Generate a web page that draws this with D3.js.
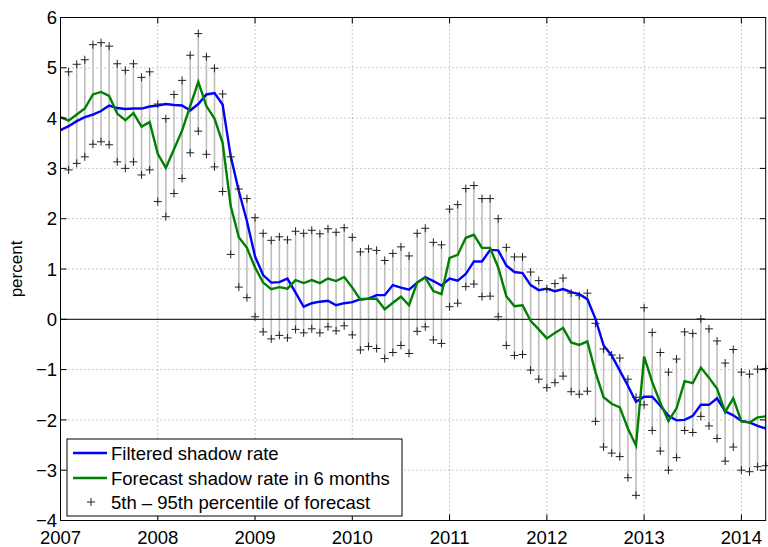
<!DOCTYPE html>
<html>
<head>
<meta charset="utf-8">
<script src="https://cdn.jsdelivr.net/npm/d3@7"></script>
<style>
  body { margin: 0; background: #fff; }
  text { font-family: "Liberation Sans", Arial, sans-serif; }
</style>
</head>
<body>
<svg width="768" height="547"></svg>
<script>
// monthly observations, Jan 2007 .. Apr 2014
var startYear = 2007
var nMonths = 88

var filtered = [3.76, 3.84, 3.94, 4.02, 4.07, 4.14, 4.25, 4.20, 4.18, 4.19, 4.19, 4.23,
  4.25, 4.28, 4.26, 4.25, 4.15, 4.28, 4.47, 4.50, 4.27, 3.24, 2.55, 1.95,
  1.25, 0.88, 0.73, 0.74, 0.81, 0.53, 0.25, 0.32, 0.35, 0.37, 0.28, 0.32,
  0.34, 0.40, 0.41, 0.48, 0.48, 0.68, 0.63, 0.59, 0.73, 0.84, 0.76, 0.67,
  0.81, 0.77, 0.90, 1.15, 1.15, 1.38, 1.37, 1.07, 0.94, 0.92, 0.68, 0.58,
  0.61, 0.56, 0.60, 0.54, 0.50, 0.40, 0.01, -0.52, -0.72, -1.02, -1.32, -1.64,
  -1.54, -1.54, -1.72, -1.92, -2.01, -2.00, -1.92, -1.70, -1.70, -1.57, -1.83, -1.91,
  -2.02, -2.05, -2.12, -2.17]

var forecast = [4.02, 3.95, 4.07, 4.19, 4.47, 4.52, 4.44, 4.09, 3.96, 4.10, 3.83, 3.92,
  3.29, 3.01, 3.38, 3.75, 4.24, 4.72, 4.24, 3.99, 3.51, 2.25, 1.63, 1.42,
  1.03, 0.73, 0.60, 0.64, 0.61, 0.78, 0.72, 0.78, 0.72, 0.81, 0.76, 0.84,
  0.63, 0.39, 0.41, 0.41, 0.20, 0.33, 0.45, 0.28, 0.73, 0.83, 0.56, 0.50,
  1.22, 1.28, 1.62, 1.68, 1.42, 1.42, 1.03, 0.46, 0.26, 0.28, -0.03, -0.20,
  -0.38, -0.27, -0.17, -0.46, -0.51, -0.44, -1.05, -1.55, -1.68, -1.75, -2.17, -2.51,
  -0.74, -1.25, -1.66, -2.02, -1.77, -1.23, -1.27, -0.96, -1.16, -1.38, -1.84, -1.57,
  -2.03, -2.05, -1.95, -1.93]

var pct95 = [null, 4.92, 5.07, 5.16, 5.46, 5.50, 5.43, 5.08, 4.95, 5.08, 4.81, 4.92,
  4.28, 3.99, 4.47, 4.75, 5.25, 5.68, 5.22, 4.99, 4.48, 3.23, 2.59, 2.40,
  2.02, 1.71, 1.57, 1.64, 1.58, 1.75, 1.71, 1.77, 1.70, 1.80, 1.73, 1.82,
  1.63, 1.34, 1.40, 1.37, 1.17, 1.31, 1.44, 1.26, 1.71, 1.81, 1.53, 1.48,
  2.19, 2.28, 2.60, 2.66, 2.40, 2.40, 2.00, 1.43, 1.24, 1.24, 0.94, 0.77,
  0.61, 0.71, 0.82, 0.52, 0.47, 0.52, -0.08, -0.59, -0.71, -0.77, -1.19, -1.55,
  0.23, -0.26, -0.66, -1.05, -0.79, -0.25, -0.28, 0.01, -0.19, -0.43, -0.87, -0.60,
  -1.05, -1.09, -0.99, -0.98]

var pct5 = [null, 2.97, 3.10, 3.23, 3.48, 3.53, 3.47, 3.13, 3.00, 3.13, 2.87, 2.97,
  2.34, 2.04, 2.50, 2.80, 3.31, 3.74, 3.28, 3.03, 2.54, 1.29, 0.64, 0.43,
  0.05, -0.25, -0.39, -0.32, -0.37, -0.20, -0.27, -0.19, -0.27, -0.15, -0.23, -0.13,
  -0.31, -0.61, -0.54, -0.58, -0.78, -0.66, -0.52, -0.68, -0.24, -0.15, -0.41, -0.48,
  0.25, 0.32, 0.65, 0.70, 0.45, 0.46, 0.05, -0.52, -0.72, -0.70, -1.01, -1.19,
  -1.36, -1.26, -1.13, -1.44, -1.49, -1.43, -2.03, -2.54, -2.66, -2.73, -3.15, -3.50,
  -1.70, -2.21, -2.62, -3.00, -2.75, -2.21, -2.25, -1.93, -2.12, -2.37, -2.82, -2.54,
  -3.00, -3.03, -2.93, -2.91]

var xTicks = [2007, 2008, 2009, 2010, 2011, 2012, 2013, 2014]
var yTicks = [-4, -3, -2, -1, 0, 1, 2, 3, 4, 5, 6]
var legendLabels = ['Filtered shadow rate', 'Forecast shadow rate in 6 months', '5th \u2013 95th percentile of forecast']

var data = d3.range(nMonths).map(function(i) {
  return { t: startYear + i / 12, f: filtered[i], g: forecast[i], hi: pct95[i], lo: pct5[i] }
})

var pLeft = 60.5, pRight = 765.7, pTop = 17.5, pBottom = 520.5
var svg = d3.select('svg')

var x = d3.scaleLinear().domain([2007, 2014.25]).range([pLeft, pRight])
var y = d3.scaleLinear().domain([-4, 6]).range([pBottom, pTop])

// dotted grid
svg.append('g').selectAll('line')
    .data(xTicks.slice(1))
    .enter().append('line')
    .attr('x1', function(d) { return x(d) }).attr('x2', function(d) { return x(d) })
    .attr('y1', pTop).attr('y2', pBottom)
    .attr('stroke', '#777').attr('stroke-width', 0.8).attr('stroke-dasharray', '1,3')

svg.append('g').selectAll('line')
    .data(yTicks.slice(1, -1))
    .enter().append('line')
    .attr('x1', pLeft).attr('x2', pRight)
    .attr('y1', function(d) { return y(d) }).attr('y2', function(d) { return y(d) })
    .attr('stroke', '#777').attr('stroke-width', 0.8).attr('stroke-dasharray', '1,3')

// percentile bars
var bars = data.filter(function(d) { return d.hi != null })

svg.append('g').selectAll('line')
    .data(bars)
    .enter().append('line')
    .attr('x1', function(d) { return x(d.t) }).attr('x2', function(d) { return x(d.t) })
    .attr('y1', function(d) { return y(d.hi) }).attr('y2', function(d) { return y(d.lo) })
    .attr('stroke', '#bdbdbd').attr('stroke-width', 1.6)

// zero line
svg.append('line')
    .attr('x1', pLeft).attr('x2', pRight)
    .attr('y1', y(0)).attr('y2', y(0))
    .attr('stroke', '#000').attr('stroke-width', 1)

var line = function(key) {
  return d3.line().x(function(d) { return x(d.t) }).y(function(d) { return y(d[key]) })
}

svg.append('path').datum(data)
    .attr('d', line('f'))
    .attr('fill', 'none').attr('stroke', '#0000ff').attr('stroke-width', 2.4)

svg.append('path').datum(data)
    .attr('d', line('g'))
    .attr('fill', 'none').attr('stroke', '#008000').attr('stroke-width', 2.4)

// plus markers
var plus = function(sel, px, py) {
  sel.append('path')
    .attr('d', 'M' + (px - 4) + ',' + py + 'H' + (px + 4) + 'M' + px + ',' + (py - 4) + 'V' + (py + 4))
    .attr('stroke', '#222').attr('stroke-width', 1).attr('fill', 'none')
}
var marks = svg.append('g')
bars.forEach(function(d) {
  plus(marks, x(d.t), y(d.hi))
  plus(marks, x(d.t), y(d.lo))
})

// axes box and ticks
svg.append('rect')
    .attr('x', pLeft).attr('y', pTop)
    .attr('width', pRight - pLeft).attr('height', pBottom - pTop)
    .attr('fill', 'none').attr('stroke', '#000').attr('stroke-width', 1)

var axes = svg.append('g')
xTicks.forEach(function(d) {
  axes.append('line').attr('x1', x(d)).attr('x2', x(d)).attr('y1', pBottom).attr('y2', pBottom - 6).attr('stroke', '#000')
  axes.append('line').attr('x1', x(d)).attr('x2', x(d)).attr('y1', pTop).attr('y2', pTop + 6).attr('stroke', '#000')
  axes.append('text').attr('x', x(d)).attr('y', 544)
    .attr('text-anchor', 'middle').attr('font-size', '18.5px').text(d)
})
yTicks.forEach(function(d) {
  axes.append('line').attr('x1', pLeft).attr('x2', pLeft + 6).attr('y1', y(d)).attr('y2', y(d)).attr('stroke', '#000')
  axes.append('line').attr('x1', pRight).attr('x2', pRight - 6).attr('y1', y(d)).attr('y2', y(d)).attr('stroke', '#000')
  axes.append('text').attr('x', 57).attr('y', y(d)).attr('dy', '0.36em')
    .attr('text-anchor', 'end').attr('font-size', '18.5px').text(d < 0 ? '\u2212' + Math.abs(d) : d)
})

svg.append('text')
    .attr('transform', 'translate(22,' + ((pTop + pBottom) / 2) + ') rotate(-90)')
    .attr('text-anchor', 'middle').attr('font-size', '17px').text('percent')

// legend
var lg = svg.append('g')
lg.append('rect')
    .attr('x', 67).attr('y', 439).attr('width', 335).attr('height', 77)
    .attr('fill', '#fff').attr('stroke', '#000').attr('stroke-width', 1)

var rowY = [453, 478, 502]
var colors = ['#0000ff', '#008000']
legendLabels.forEach(function(label, i) {
  if (i < 2) {
    lg.append('line').attr('x1', 73).attr('x2', 107).attr('y1', rowY[i]).attr('y2', rowY[i])
      .attr('stroke', colors[i]).attr('stroke-width', 2.4)
  } else {
    plus(lg, 91, rowY[i])
  }
  lg.append('text').attr('x', 111).attr('y', rowY[i]).attr('dy', '0.36em')
    .attr('font-size', '18.5px').text(label)
})
</script>
</body>
</html>
